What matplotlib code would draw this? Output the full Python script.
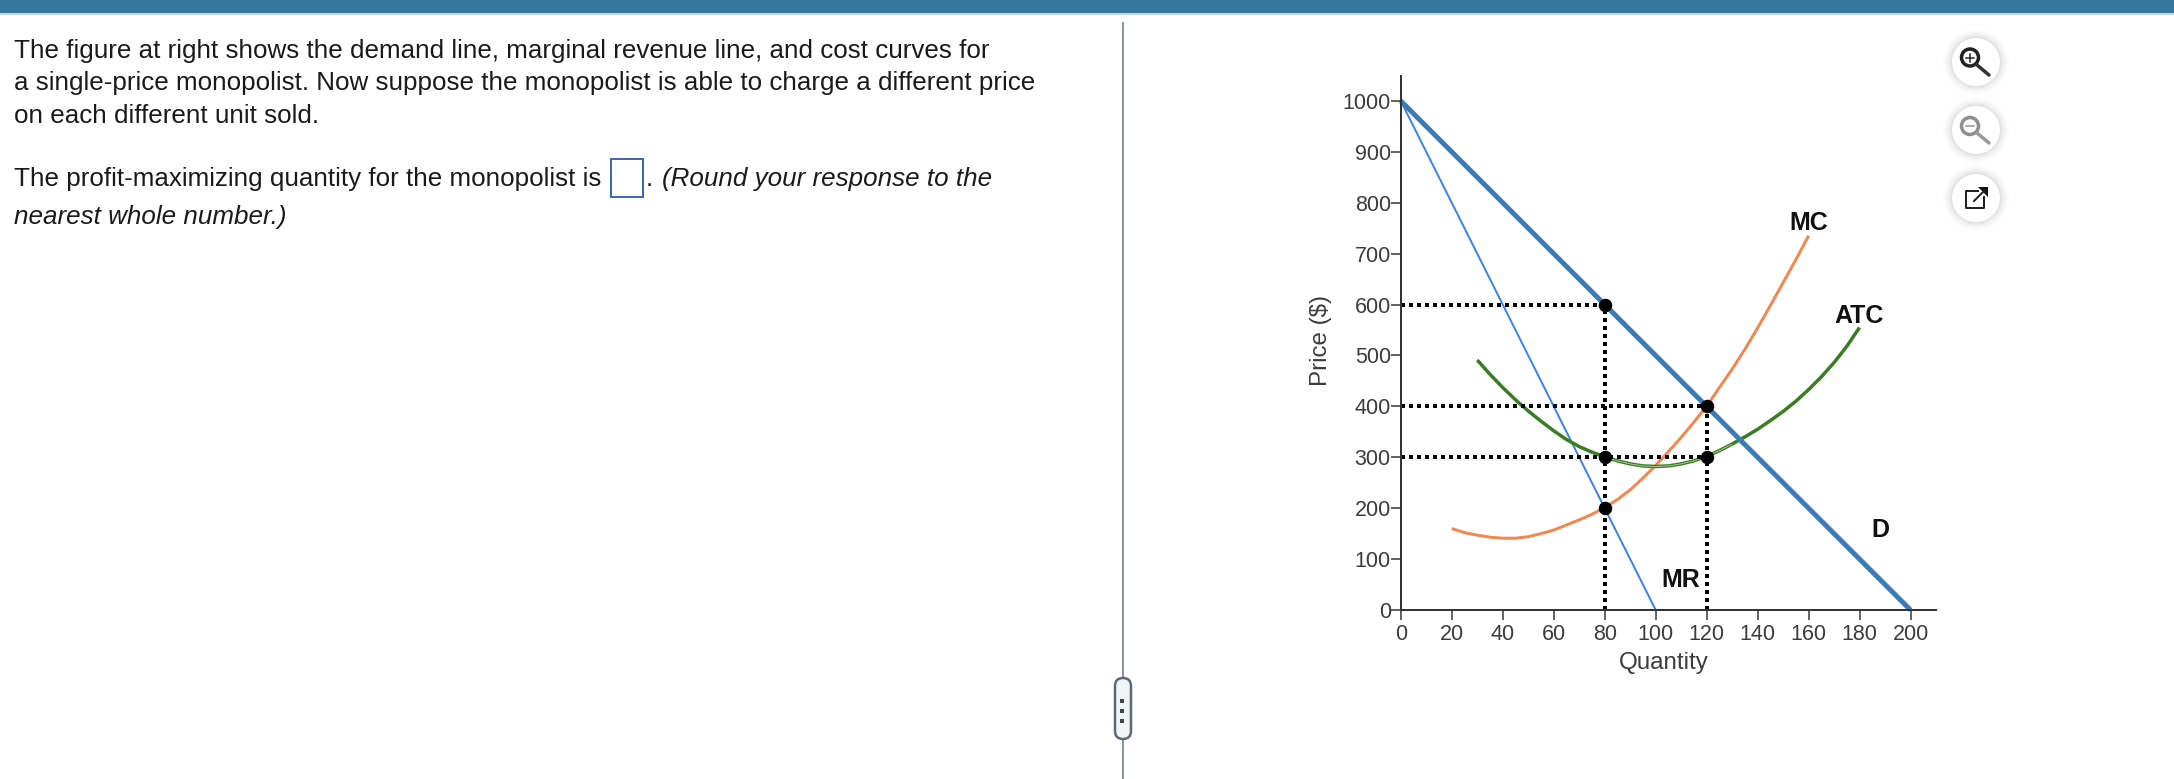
import numpy as np
import matplotlib
matplotlib.use('Agg')
import matplotlib.pyplot as plt
from matplotlib.patches import Circle, FancyBboxPatch, Rectangle

plt.rcParams['font.family'] = ['Liberation Sans', 'DejaVu Sans']

# values
x_ticks = [0, 20, 40, 60, 80, 100, 120, 140, 160, 180, 200]
y_ticks = [0, 100, 200, 300, 400, 500, 600, 700, 800, 900, 1000]

demand_q = [0, 200]
demand_p = [1000, 0]
mr_q = [0, 100]
mr_p = [1000, 0]

mc_q = [20, 25, 30, 35, 40, 45, 50, 55, 60, 65, 70, 75, 80, 85, 90, 95, 100, 105, 110, 115, 120,
        125, 130, 135, 140, 145, 150, 155, 160]
mc_p = [160, 152, 147, 143, 141, 141, 144, 150, 157, 167, 177, 188, 201, 217, 236, 259, 284, 311, 339, 369, 400,
        437, 473, 512, 554, 598, 643, 688, 735]

atc_q = [30, 35, 40, 45, 50, 55, 60, 65, 70, 75, 80, 85, 90, 95, 100, 105, 110, 115, 120,
         125, 130, 135, 140, 145, 150, 155, 160, 165, 170, 175, 180]
atc_p = [491, 463, 437, 413, 391, 371, 352, 335, 321, 310, 301, 293, 287, 283, 282, 283, 287, 293, 302,
         313, 326, 340, 355, 372, 390, 410, 433, 458, 486, 518, 555]

guide_q = [80, 120, 120]
guide_p = [600, 400, 300]
dot_q = [80, 80, 80, 120, 120]
dot_p = [600, 300, 200, 400, 300]

curve_labels = ['MC', 'ATC', 'D', 'MR']
label_q = [160, 180, 188, 110]
label_p = [760, 577, 157, 59]

question_lines = ['The figure at right shows the demand line, marginal revenue line, and cost curves for',
                  'a single-price monopolist. Now suppose the monopolist is able to charge a different price',
                  'on each different unit sold.']

W, H = 2174, 779
fig = plt.figure(figsize=(W / 100, H / 100), dpi=100, facecolor='white')


def px(v):
    return v * 0.72


# page furniture in pixel coordinates
page = fig.add_axes([0, 0, 1, 1])
page.set_xlim(0, W)
page.set_ylim(H, 0)
page.axis('off')

page.add_patch(Rectangle((0, 0), W, 13, color='#36789b', lw=0))
page.add_patch(Rectangle((0, 13), W, 2, color='#c9d2da', lw=0))

for ypos, line in zip([51, 83, 116], question_lines):
    page.text(14, ypos, line, fontsize=18.7, color='#1a1a1a', va='center')
page.text(14, 179, 'The profit-maximizing quantity for the monopolist is', fontsize=18.7, color='#1a1a1a', va='center')
page.add_patch(Rectangle((611, 159), 32, 38, fill=False, ec='#3f66c4', lw=px(2)))
page.text(646, 179, '.', fontsize=18.7, color='#1a1a1a', va='center')
page.text(662, 179, '(Round your response to the', fontsize=18.7, style='italic', color='#1a1a1a', va='center')
page.text(14, 217, 'nearest whole number.)', fontsize=18.7, style='italic', color='#1a1a1a', va='center')

# divider with handle
page.plot([1122.5, 1122.5], [22, H], color='#8a94a6', lw=px(2), solid_capstyle='butt')
page.add_patch(FancyBboxPatch((1115, 678), 16, 61, boxstyle='round,pad=0,rounding_size=8',
                              fc='#f1f3f5', ec='#5b6b7d', lw=px(2.5), zorder=3))
for ypos in [701, 711, 721]:
    page.add_patch(Rectangle((1120, ypos - 2), 4, 4, color='#444444', lw=0, zorder=4))

# icon buttons
for cy in [62, 130, 198]:
    for r, a in zip([33, 31, 29, 27, 25], [0.012, 0.016, 0.022, 0.03, 0.04]):
        page.add_patch(Circle((1976, cy), r, color='black', alpha=a, lw=0))
    page.add_patch(Circle((1976, cy), 24, color='white', lw=0))

page.add_patch(Circle((1970, 57.5), 8.5, fill=False, ec='#222222', lw=px(3.5)))
page.plot([1977, 1989], [65, 75], color='#333333', lw=px(3.5), solid_capstyle='round')
page.plot([1966, 1974], [57.5, 57.5], color='#222222', lw=px(1.5))
page.plot([1970, 1970], [53.5, 61.5], color='#222222', lw=px(1.5))

page.add_patch(Circle((1970, 126), 8.5, fill=False, ec='#8f8f8f', lw=px(3.5)))
page.plot([1977, 1989], [133, 143], color='#999999', lw=px(3.5), solid_capstyle='round')
page.plot([1966, 1974], [126, 126], color='#8f8f8f', lw=px(1.5))

page.plot([1978, 1965.5, 1965.5, 1984, 1984], [190.5, 190.5, 208, 208, 197], color='#222222', lw=px(2))
page.plot([1974, 1984], [201, 191], color='#222222', lw=px(2))
page.fill([1978, 1988, 1988], [187, 187, 197], color='#111111', lw=0)

# chart axes, placed to match the reference
left, right = 1400.8, 1936
bottom, top = 610, 75.5
ax = fig.add_axes([left / W, 1 - bottom / H, (right - left) / W, (bottom - top) / H])
ax.patch.set_alpha(0)
ax.set_xlim(0, 210)
ax.set_ylim(0, 1050)
for side in ['top', 'right']:
    ax.spines[side].set_visible(False)
for side in ['left', 'bottom']:
    ax.spines[side].set_color('#333333')
    ax.spines[side].set_linewidth(px(2))

ax.set_xticks(x_ticks)
ax.set_yticks(y_ticks)
ax.tick_params(axis='both', length=px(10), width=px(1.5), color='#333333', labelcolor='#3c3c3c',
               labelsize=15.5, pad=0)
ax.tick_params(axis='x', pad=3)
ax.set_xlabel('Quantity', fontsize=17.4, color='#3c3c3c', labelpad=3)
ax.xaxis.set_label_coords((1664 - left) / (right - left), -(663 - bottom) / (bottom - top), transform=ax.transAxes)
ax.xaxis.label.set_va('center')
ax.set_ylabel('Price ($)', fontsize=17.4, color='#3c3c3c')
ax.yaxis.set_label_coords(-(left - 1321) / (right - left), (bottom - 341) / (bottom - top), transform=ax.transAxes)
ax.yaxis.label.set_va('center')

ax.plot(mr_q, mr_p, color='#3d85e8', lw=px(2), solid_capstyle='butt', clip_on=False)
ax.plot(mc_q, mc_p, color='#f0884f', lw=px(3), solid_capstyle='butt')
ax.plot(atc_q, atc_p, color='#3a7d22', lw=px(3.5), solid_capstyle='butt')
ax.plot(atc_q[10:21], atc_p[10:21], color='#b8d4a8', lw=px(0.8), solid_capstyle='butt')
ax.plot(demand_q, demand_p, color='#3a7db5', lw=px(5), solid_capstyle='butt', clip_on=False)

for q, p in zip(guide_q, guide_p):
    ax.plot([0, q], [p, p], color='black', lw=px(4), linestyle=(0, (1, 1)), dash_capstyle='butt')
for q, p in zip(guide_q[:2], guide_p[:2]):
    ax.plot([q, q], [0, p], color='black', lw=px(4), linestyle=(0, (1, 1)), dash_capstyle='butt')

ax.plot(dot_q, dot_p, 'o', color='black', ms=px(13.5), mew=0, zorder=5, clip_on=False)

for name, q, p in zip(curve_labels, label_q, label_p):
    ax.text(q, p, name, fontsize=18, fontweight='bold', color='#111111', ha='center', va='center')

fig.savefig('out.png', dpi=100)
